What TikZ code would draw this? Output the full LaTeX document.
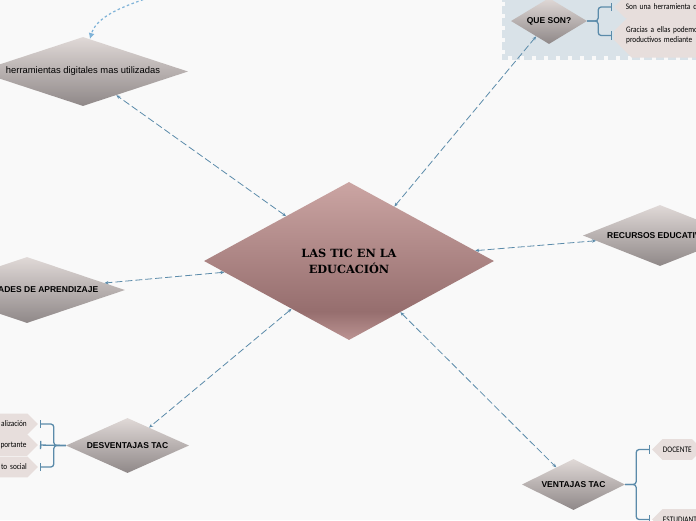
\documentclass[tikz,border=0pt]{standalone}
\usepackage{fontspec}
\setmainfont{Liberation Sans}
\newfontfamily\leaffont[FakeStretch=0.86,WordSpace=0.7]{Carlito}
\newfontfamily\titlefont{DejaVu Serif}
\usetikzlibrary{arrows.meta,shapes.geometric,shapes.misc}
\definecolor{linkblue}{HTML}{5B8BAA}
\definecolor{curveblue}{HTML}{7FB3D8}
\definecolor{leaffill}{HTML}{E7DEDC}
\definecolor{panelfill}{HTML}{D9E2E8}
\definecolor{topgrey}{HTML}{E0D9D7}
\definecolor{botgrey}{HTML}{8F8888}
\definecolor{mainend}{HTML}{BC9493}
\definecolor{maindip}{HTML}{966E6E}
\definecolor{maintop}{HTML}{CBA5A3}
\pgfdeclareverticalshading{mainshade}{100bp}{color(0bp)=(mainend);
 color(25bp)=(mainend);color(34bp)=(maindip);
 color(75bp)=(maintop);color(100bp)=(maintop)}
\tikzset{
 mainbox/.style={diamond,aspect=1.84,inner sep=0pt,minimum width=290pt,minimum height=158pt,shading=mainshade,
   font=\titlefont\bfseries\fontsize{11.3}{16}\selectfont,align=center},
 topicbox/.style n args={3}{diamond,aspect=#3,inner sep=0pt,minimum width=#1pt,minimum height=#2pt,
   top color=topgrey,bottom color=botgrey,font=\bfseries\fontsize{8.5}{10}\selectfont},
 leafbox/.style={chamfered rectangle,chamfered rectangle xsep=4pt,chamfered rectangle ysep=7.5pt,fill=leaffill,
   inner xsep=8pt,inner ysep=0pt,minimum height=15pt,font=\leaffont\fontsize{8.5}{10}\selectfont},
 link/.style={<->,>={Stealth[length=4pt,width=3.4pt]},linkblue,line width=.8pt,dash pattern=on 7pt off 3pt},
 brace/.style={-|,linkblue,line width=1.3pt,rounded corners=3pt,shorten >=2pt},
}
\begin{document}
\begin{tikzpicture}[x=1pt,y=-1pt]
\clip (0,0) rectangle (696,520);
\fill[white!97.5!black] (0,0) rectangle (696,520);
% panel behind the top right topic
\fill[panelfill] (505,-6) rectangle (702,56);
\draw[panelfill,line width=4pt,dash pattern=on 8pt off 4pt] (504,-6)--(504,58)--(702,58);

\node[mainbox] (tic) at (349,261) {LAS TIC EN LA\\EDUCACIÓN};
\node[topicbox={210}{69}{3.04}] (herram) at (83,71.5) {\mdseries\fontsize{9.4}{11}\selectfont herramientas digitales mas utilizadas};
\node[topicbox={76}{46}{1.65}] (queson) at (549,21) {QUE SON?};
\node[topicbox={154}{61}{2.52}] (recursos) at (660,235.5) {RECURSOS EDUCATIVOS};
\node[topicbox={196}{66}{2.97}] (habil) at (27,290) {\hspace*{8pt}HABILIDADES DE APRENDIZAJE};
\node[topicbox={123}{55}{2.24}] (desv) at (127.5,445.5) {DESVENTAJAS TAC};
\node[topicbox={103}{51}{2.02}] (vent) at (573.5,484.5) {VENTAJAS TAC};

\node[leafbox,anchor=west,text width=90pt] (son) at (614,7) {Son una herramienta que};
\node[leafbox,anchor=west,text width=90pt,minimum height=27pt,chamfered rectangle ysep=13.5pt,align=left] (gracias) at (614,35.5) {Gracias a ellas podemos\\productivos mediante};
\node[leafbox,anchor=west] (docente) at (652,449.5) {DOCENTE};
\node[leafbox,anchor=west] (estud) at (652,519.5) {ESTUDIANTES};
\node[leafbox,anchor=east,text width=70pt,align=right] (izac) at (38,424) {alización};
\node[leafbox,anchor=east,text width=70pt,align=right] (import) at (38,445) {portante};
\node[leafbox,anchor=east,text width=70pt,align=right] (social) at (38,467) {to social};

\draw[link] (tic)--(herram);
\draw[link] (tic)--(queson);
\draw[link] (tic)--(recursos);
\draw[link] (tic)--(habil);
\draw[link] (tic)--(desv);
\draw[link] (tic)--(vent);

\coordinate (curvefree) at (148,-2);
\draw[->,>={Latex[length=6pt,width=6pt]},curveblue,line width=1.2pt,dash pattern=on 2.5pt off 2.5pt] (curvefree) .. controls (118,8) and (96,18) .. (herram.78);

\draw[brace] (queson.east)--++(11,0) |- (son.west);
\draw[brace] (queson.east)--++(11,0) |- (gracias.west);
\draw[brace] (vent.east)--++(11,0) |- (docente.west);
\draw[brace] (vent.east)--++(11,0) |- (estud.west);
\draw[brace] (desv.west)--++(-12,0) |- (izac.east);
\draw[brace] (desv.west)--(import.east);
\draw[brace] (desv.west)--++(-12,0) |- (social.east);
\end{tikzpicture}
\end{document}
